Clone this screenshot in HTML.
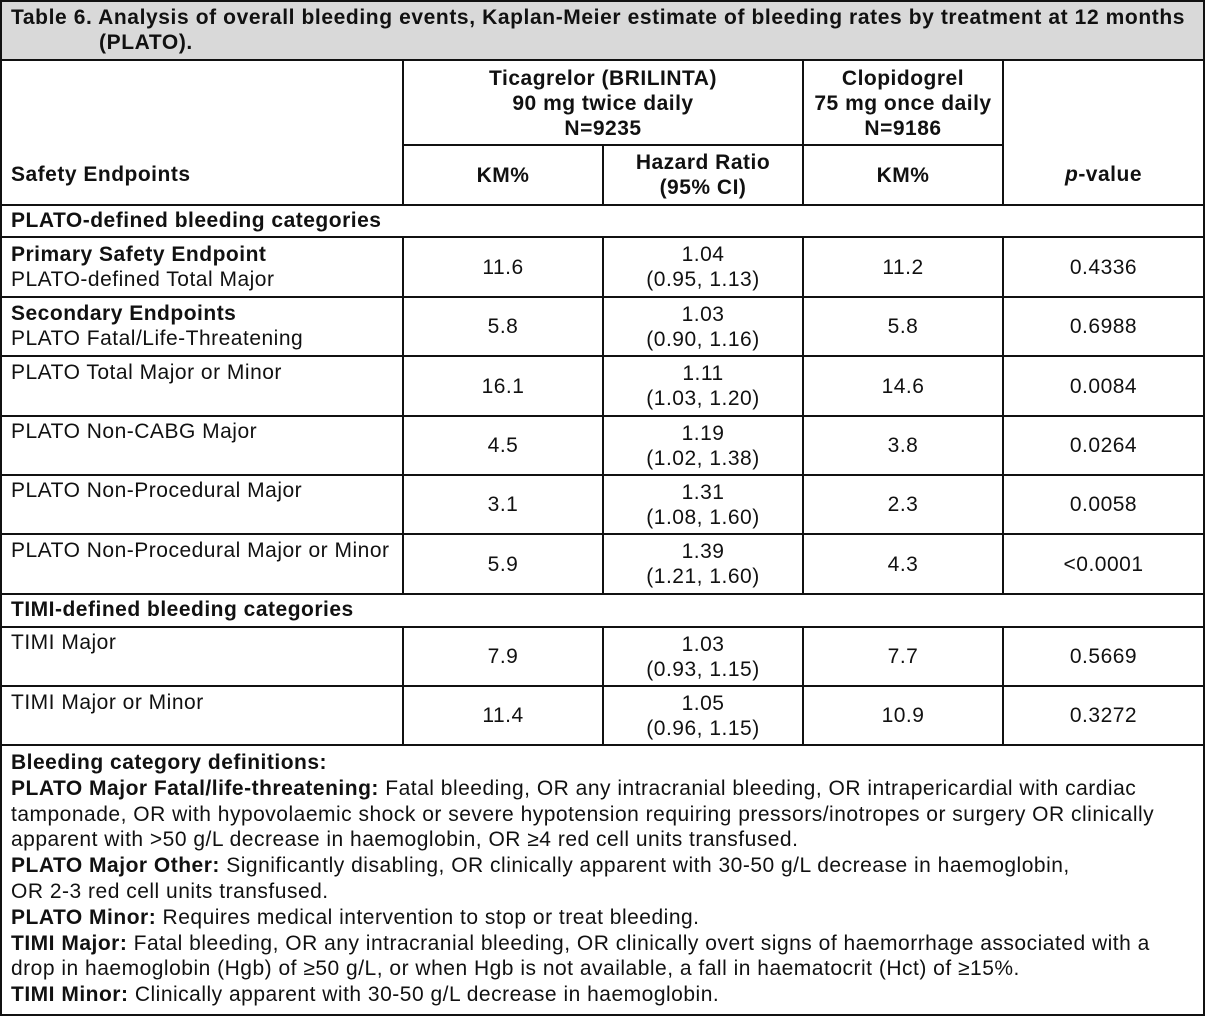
<!DOCTYPE html><html><head><style>
body{margin:0;width:1205px;height:1016px;background:#fff;font-family:"Liberation Sans",Arial,sans-serif;font-size:21px;letter-spacing:0.5px;color:#111;position:relative;overflow:hidden}
.h{position:absolute;height:2px;background:#111}
.v{position:absolute;width:2px;background:#111}
.c{position:absolute;display:flex;align-items:center;justify-content:center;text-align:center;line-height:25px}
.l{position:absolute;line-height:25px;padding-left:10px;white-space:nowrap}
b{font-weight:bold}
</style></head><body>
<div style="position:absolute;left:1px;top:0;width:1203px;height:60px;background:#d9d9d9"></div>
<div class="l" style="left:1px;top:5px;font-weight:bold;line-height:25px;letter-spacing:0.6px">Table 6. Analysis of overall bleeding events, Kaplan-Meier estimate of bleeding rates by treatment at 12 months<br><span style="padding-left:88px">(PLATO).</span></div>
<div class="h" style="left:0;top:0;width:1205px"></div>
<div class="h" style="left:0;top:1014px;width:1205px"></div>
<div class="v" style="left:0;top:0;height:1016px"></div>
<div class="v" style="left:1203px;top:0;height:1016px"></div>
<div class="h" style="left:0;top:59px;width:1205px"></div>
<div class="h" style="left:402px;top:144px;width:601px"></div>
<div class="h" style="left:0;top:204px;width:1205px"></div>
<div class="h" style="left:0;top:236px;width:1205px"></div>
<div class="h" style="left:0;top:296px;width:1205px"></div>
<div class="h" style="left:0;top:355px;width:1205px"></div>
<div class="h" style="left:0;top:415px;width:1205px"></div>
<div class="h" style="left:0;top:474px;width:1205px"></div>
<div class="h" style="left:0;top:533px;width:1205px"></div>
<div class="h" style="left:0;top:593px;width:1205px"></div>
<div class="h" style="left:0;top:626px;width:1205px"></div>
<div class="h" style="left:0;top:685px;width:1205px"></div>
<div class="h" style="left:0;top:744px;width:1205px"></div>
<div class="v" style="left:402px;top:60px;height:145px"></div>
<div class="v" style="left:802px;top:60px;height:145px"></div>
<div class="v" style="left:1002px;top:60px;height:145px"></div>
<div class="v" style="left:602px;top:145px;height:60px"></div>
<div class="v" style="left:402px;top:237px;height:357px"></div>
<div class="v" style="left:602px;top:237px;height:357px"></div>
<div class="v" style="left:802px;top:237px;height:357px"></div>
<div class="v" style="left:1002px;top:237px;height:357px"></div>
<div class="v" style="left:402px;top:627px;height:118px"></div>
<div class="v" style="left:602px;top:627px;height:118px"></div>
<div class="v" style="left:802px;top:627px;height:118px"></div>
<div class="v" style="left:1002px;top:627px;height:118px"></div>
<div class="c" style="left:404px;top:62px;width:398px;height:82px;font-weight:bold">Ticagrelor (BRILINTA)<br>90 mg twice daily<br>N=9235</div>
<div class="c" style="left:804px;top:62px;width:198px;height:82px;font-weight:bold">Clopidogrel<br>75 mg once daily<br>N=9186</div>
<div class="l" style="left:1px;top:162px;font-weight:bold">Safety Endpoints</div>
<div class="c" style="left:404px;top:146px;width:198px;height:58px;font-weight:bold">KM%</div>
<div class="c" style="left:604px;top:146px;width:198px;height:58px;font-weight:bold">Hazard Ratio<br>(95% CI)</div>
<div class="c" style="left:804px;top:146px;width:198px;height:58px;font-weight:bold">KM%</div>
<div class="c" style="left:1004px;top:162px;width:199px;height:25px;font-weight:bold"><span><i>p</i>-value</span></div>
<div class="l" style="left:1px;top:208px;font-weight:bold">PLATO-defined bleeding categories</div>
<div class="l" style="left:1px;top:597px;font-weight:bold">TIMI-defined bleeding categories</div>

<div class="l" style="left:1px;top:242px"><b>Primary Safety Endpoint</b><br>PLATO-defined Total Major</div>
<div class="c" style="left:404px;top:238px;width:198px;height:58px">11.6</div>
<div class="c" style="left:604px;top:238px;width:198px;height:58px">1.04<br>(0.95, 1.13)</div>
<div class="c" style="left:804px;top:238px;width:198px;height:58px">11.2</div>
<div class="c" style="left:1004px;top:238px;width:199px;height:58px">0.4336</div>

<div class="l" style="left:1px;top:301px"><b>Secondary Endpoints</b><br>PLATO Fatal/Life-Threatening</div>
<div class="c" style="left:404px;top:298px;width:198px;height:57px">5.8</div>
<div class="c" style="left:604px;top:298px;width:198px;height:57px">1.03<br>(0.90, 1.16)</div>
<div class="c" style="left:804px;top:298px;width:198px;height:57px">5.8</div>
<div class="c" style="left:1004px;top:298px;width:199px;height:57px">0.6988</div>

<div class="l" style="left:1px;top:360px">PLATO Total Major or Minor</div>
<div class="c" style="left:404px;top:357px;width:198px;height:58px">16.1</div>
<div class="c" style="left:604px;top:357px;width:198px;height:58px">1.11<br>(1.03, 1.20)</div>
<div class="c" style="left:804px;top:357px;width:198px;height:58px">14.6</div>
<div class="c" style="left:1004px;top:357px;width:199px;height:58px">0.0084</div>

<div class="l" style="left:1px;top:419px">PLATO Non-CABG Major</div>
<div class="c" style="left:404px;top:417px;width:198px;height:57px">4.5</div>
<div class="c" style="left:604px;top:417px;width:198px;height:57px">1.19<br>(1.02, 1.38)</div>
<div class="c" style="left:804px;top:417px;width:198px;height:57px">3.8</div>
<div class="c" style="left:1004px;top:417px;width:199px;height:57px">0.0264</div>

<div class="l" style="left:1px;top:478px">PLATO Non-Procedural Major</div>
<div class="c" style="left:404px;top:476px;width:198px;height:57px">3.1</div>
<div class="c" style="left:604px;top:476px;width:198px;height:57px">1.31<br>(1.08, 1.60)</div>
<div class="c" style="left:804px;top:476px;width:198px;height:57px">2.3</div>
<div class="c" style="left:1004px;top:476px;width:199px;height:57px">0.0058</div>

<div class="l" style="left:1px;top:538px">PLATO Non-Procedural Major or Minor</div>
<div class="c" style="left:404px;top:535px;width:198px;height:58px">5.9</div>
<div class="c" style="left:604px;top:535px;width:198px;height:58px">1.39<br>(1.21, 1.60)</div>
<div class="c" style="left:804px;top:535px;width:198px;height:58px">4.3</div>
<div class="c" style="left:1004px;top:535px;width:199px;height:58px">&lt;0.0001</div>

<div class="l" style="left:1px;top:630px">TIMI Major</div>
<div class="c" style="left:404px;top:628px;width:198px;height:57px">7.9</div>
<div class="c" style="left:604px;top:628px;width:198px;height:57px">1.03<br>(0.93, 1.15)</div>
<div class="c" style="left:804px;top:628px;width:198px;height:57px">7.7</div>
<div class="c" style="left:1004px;top:628px;width:199px;height:57px">0.5669</div>

<div class="l" style="left:1px;top:690px">TIMI Major or Minor</div>
<div class="c" style="left:404px;top:687px;width:198px;height:57px">11.4</div>
<div class="c" style="left:604px;top:687px;width:198px;height:57px">1.05<br>(0.96, 1.15)</div>
<div class="c" style="left:804px;top:687px;width:198px;height:57px">10.9</div>
<div class="c" style="left:1004px;top:687px;width:199px;height:57px">0.3272</div>

<div class="l" style="left:1px;top:750px;line-height:25.8px">
<b>Bleeding category definitions:</b><br>
<b>PLATO Major Fatal/life-threatening:</b> Fatal bleeding, OR any intracranial bleeding, OR intrapericardial with cardiac<br>tamponade, OR with hypovolaemic shock or severe hypotension requiring pressors/inotropes or surgery OR clinically<br>apparent with &gt;50 g/L decrease in haemoglobin, OR ≥4 red cell units transfused.<br>
<b>PLATO Major Other:</b> Significantly disabling, OR clinically apparent with 30-50 g/L decrease in haemoglobin,<br>OR 2-3 red cell units transfused.<br>
<b>PLATO Minor:</b> Requires medical intervention to stop or treat bleeding.<br>
<b>TIMI Major:</b> Fatal bleeding, OR any intracranial bleeding, OR clinically overt signs of haemorrhage associated with a<br>drop in haemoglobin (Hgb) of ≥50 g/L, or when Hgb is not available, a fall in haematocrit (Hct) of ≥15%.<br>
<b>TIMI Minor:</b> Clinically apparent with 30-50 g/L decrease in haemoglobin.
</div>
</body></html>
